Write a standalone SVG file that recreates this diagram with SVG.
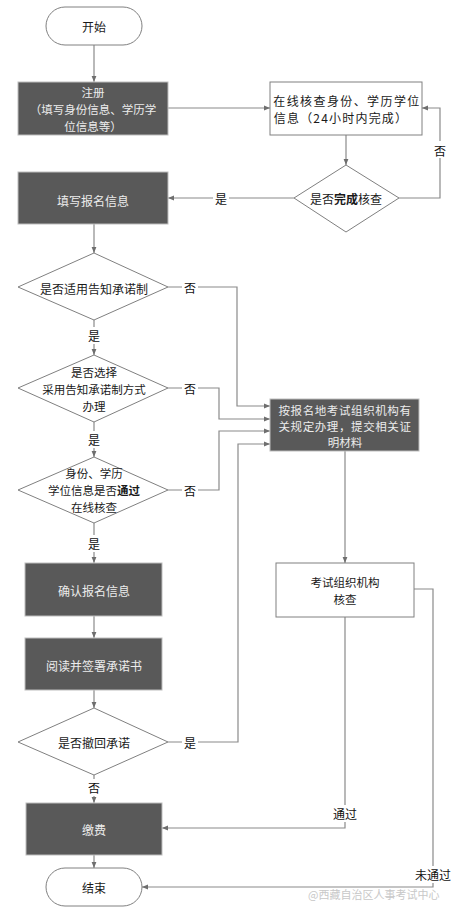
<svg xmlns="http://www.w3.org/2000/svg" width="462" height="911" viewBox="0 0 462 911">
<defs>
<marker id="arr" viewBox="0 0 10 10" refX="10" refY="5" markerWidth="6" markerHeight="6" orient="auto" markerUnits="userSpaceOnUse">
<path d="M0,1 L10,5 L0,9 z" fill="#6e6e6e"/>
</marker>
</defs>
<style>
text{font-family:"Noto Sans CJK SC","Liberation Sans",sans-serif;font-size:12px;text-anchor:middle;dominant-baseline:central}
.dark{fill:#595959;stroke:#bdbdbd;stroke-width:1}
.light{fill:#ffffff;stroke:#808080;stroke-width:1}
.dtxt{fill:#ececec}
.ltxt{fill:#1a1a1a}
.ln{fill:none;stroke:#8a8a8a;stroke-width:1.2}
.lbg{fill:#ffffff}
.lbl{fill:#111111}
.sm{font-size:11.5px}
</style>
<rect width="462" height="911" fill="#ffffff"/>
<g id="connectors">
<path class="ln" d="M94,45 V82" marker-end="url(#arr)"/>
<path class="ln" d="M168,108 H270" marker-end="url(#arr)"/>
<path class="ln" d="M346,135 V165" marker-end="url(#arr)"/>
<path class="ln" d="M399,198 H440 V108 H422" marker-end="url(#arr)"/>
<path class="ln" d="M294,198 H168" marker-end="url(#arr)"/>
<path class="ln" d="M94,224 V253" marker-end="url(#arr)"/>
<path class="ln" d="M168,287 H237 V406 H270" marker-end="url(#arr)"/>
<path class="ln" d="M94,320 V355" marker-end="url(#arr)"/>
<path class="ln" d="M168,388 H219 V419 H270" marker-end="url(#arr)"/>
<path class="ln" d="M94,422 V457" marker-end="url(#arr)"/>
<path class="ln" d="M168,490 H219 V431 H270" marker-end="url(#arr)"/>
<path class="ln" d="M94,523 V563" marker-end="url(#arr)"/>
<path class="ln" d="M94,616 V638" marker-end="url(#arr)"/>
<path class="ln" d="M94,690 V708" marker-end="url(#arr)"/>
<path class="ln" d="M168,742 H238 V444 H270" marker-end="url(#arr)"/>
<path class="ln" d="M94,775 V803" marker-end="url(#arr)"/>
<path class="ln" d="M94,855 V868" marker-end="url(#arr)"/>
<path class="ln" d="M345,451 V563" marker-end="url(#arr)"/>
<path class="ln" d="M345,617 V828 H162" marker-end="url(#arr)"/>
<path class="ln" d="M414,589 H433 V887 H142" marker-end="url(#arr)"/>
<g id="labels">
<rect class="lbg" x="432" y="141" width="16" height="17"/><text class="lbl" x="440" y="150">否</text>
<rect class="lbg" x="213" y="190" width="16" height="17"/><text class="lbl" x="221" y="198">是</text>
<rect class="lbg" x="182" y="279" width="16" height="17"/><text class="lbl" x="190" y="287">否</text>
<rect class="lbg" x="86" y="327" width="16" height="17"/><text class="lbl" x="94" y="335">是</text>
<rect class="lbg" x="182" y="380" width="16" height="17"/><text class="lbl" x="190" y="388">否</text>
<rect class="lbg" x="86" y="431" width="16" height="17"/><text class="lbl" x="94" y="439">是</text>
<rect class="lbg" x="182" y="482" width="16" height="17"/><text class="lbl" x="190" y="490">否</text>
<rect class="lbg" x="86" y="535" width="16" height="17"/><text class="lbl" x="94" y="543">是</text>
<rect class="lbg" x="182" y="734" width="16" height="17"/><text class="lbl" x="190" y="742">是</text>
<rect class="lbg" x="86" y="779" width="16" height="17"/><text class="lbl" x="94" y="787">否</text>
<rect class="lbg" x="332" y="805" width="26" height="17"/><text class="lbl" x="345" y="813">通过</text>
<rect class="lbg" x="414" y="866" width="38" height="17"/><text class="lbl" x="433" y="874">未通过</text>
</g>
</g>
<g id="start">
<rect class="light" x="46" y="7" width="96" height="38" rx="19"/>
<text class="ltxt" x="94" y="26">开始</text>
</g>
<g id="register">
<rect class="dark" x="18" y="82" width="150" height="53"/>
<text class="dtxt sm" x="93" y="92">注册</text>
<text class="dtxt sm" x="93" y="109">（填写身份信息、学历学</text>
<text class="dtxt sm" x="93" y="126">位信息等）</text>
</g>
<g id="online-check">
<rect class="light" x="270" y="82" width="152" height="53"/>
<text class="ltxt" x="347" y="100" style="letter-spacing:1.4px">在线核查身份、学历学位</text>
<text class="ltxt" x="341" y="117" style="letter-spacing:1.2px">信息（24小时内完成）</text>
</g>
<g id="check-done">
<polygon class="light" points="346,165 399,198 346,232 294,198"/>
<text class="ltxt" x="346" y="198">是否<tspan font-weight="bold">完成</tspan>核查</text>
</g>
<g id="fill-info">
<rect class="dark" x="18" y="172" width="150" height="52"/>
<text class="dtxt" x="93" y="200">填写报名信息</text>
</g>
<g id="apply-notify">
<polygon class="light" points="94,253 168,287 94,320 18,287"/>
<text class="ltxt" x="94" y="288">是否适用告知承诺制</text>
</g>
<g id="choose-notify">
<polygon class="light" points="94,355 168,388 94,422 18,388"/>
<text class="ltxt sm" x="94" y="372">是否选择</text>
<text class="ltxt sm" x="94" y="389">采用告知承诺制方式</text>
<text class="ltxt sm" x="94" y="406">办理</text>
</g>
<g id="pass-check">
<polygon class="light" points="94,457 168,490 94,523 18,490"/>
<text class="ltxt sm" x="94" y="473">身份、学历</text>
<text class="ltxt sm" x="94" y="490">学位信息是否<tspan font-weight="bold">通过</tspan></text>
<text class="ltxt sm" x="94" y="507">在线核查</text>
</g>
<g id="local-rules">
<rect class="dark" x="270" y="399" width="149" height="52"/>
<text class="dtxt sm" x="345" y="410" style="letter-spacing:0.6px">按报名地考试组织机构有</text>
<text class="dtxt sm" x="345" y="426" style="letter-spacing:0.6px">关规定办理，提交相关证</text>
<text class="dtxt sm" x="345" y="442">明材料</text>
</g>
<g id="confirm">
<rect class="dark" x="25" y="563" width="137" height="53"/>
<text class="dtxt" x="94" y="590">确认报名信息</text>
</g>
<g id="sign">
<rect class="dark" x="25" y="638" width="137" height="52"/>
<text class="dtxt" x="94" y="665">阅读并签署承诺书</text>
</g>
<g id="org-check">
<rect class="light" x="276" y="563" width="138" height="54"/>
<text class="ltxt sm" x="345" y="582">考试组织机构</text>
<text class="ltxt sm" x="345" y="599">核查</text>
</g>
<g id="withdraw">
<polygon class="light" points="94,708 168,742 94,775 18,742"/>
<text class="ltxt" x="94" y="742">是否撤回承诺</text>
</g>
<g id="pay">
<rect class="dark" x="26" y="803" width="136" height="52"/>
<text class="dtxt" x="94" y="829">缴费</text>
</g>
<g id="end">
<rect class="light" x="46" y="868" width="96" height="38" rx="19"/>
<text class="ltxt" x="94" y="887">结束</text>
</g>
<text x="308" y="894" style="text-anchor:start;fill:#c8c8c8;font-size:11px">@西藏自治区人事考试中心</text>
</svg>
